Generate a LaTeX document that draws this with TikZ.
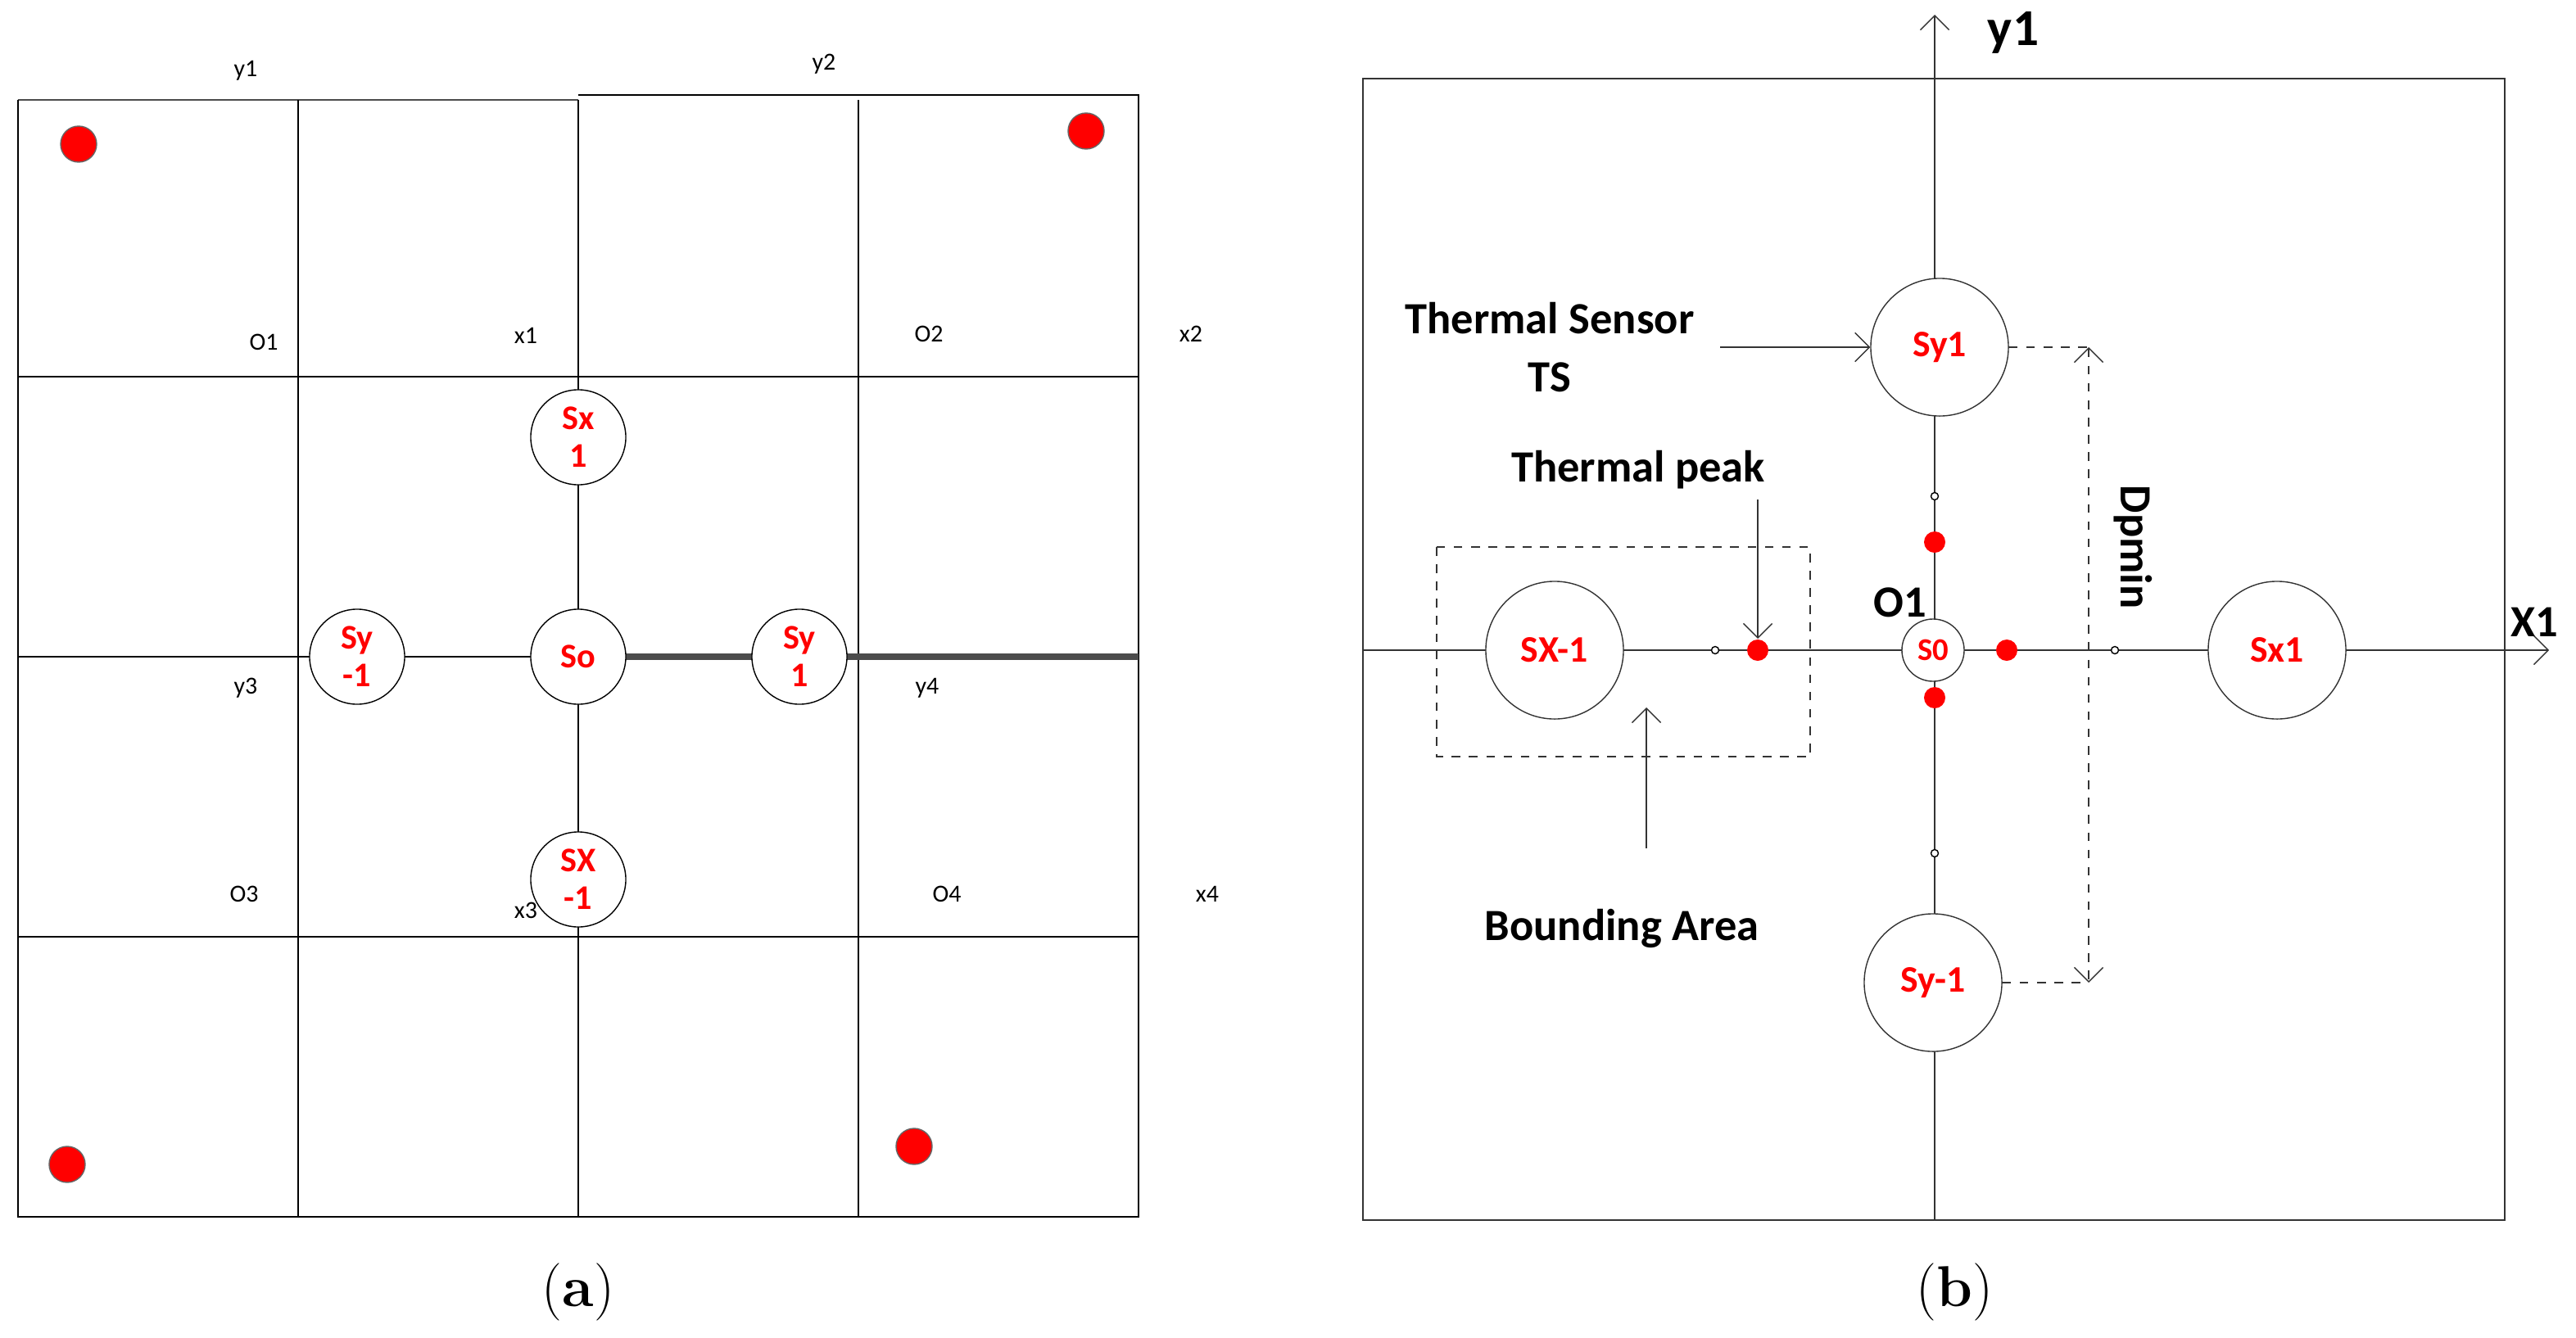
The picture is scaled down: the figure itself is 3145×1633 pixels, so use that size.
\documentclass[tikz,border=0pt]{standalone}
\usepackage{fontspec}
\setmainfont{Carlito}
\newfontfamily\capfont{Latin Modern Roman}
\usetikzlibrary{arrows.meta}

\begin{document}
\begin{tikzpicture}[x=0.01cm,y=-0.01cm,
    sensA/.style={circle,draw,fill=white,minimum size=1.16cm,inner sep=0pt,
        text=red,font=\fontsize{12}{13}\selectfont\bfseries,align=center},
    sensB/.style={circle,draw=black!80,fill=white,minimum size=1.68cm,inner sep=0pt,
        text=red,font=\fontsize{13}{14}\selectfont\bfseries},
    peak/.style={circle,fill=red,draw=black!60,inner sep=0pt},
    tick/.style={circle,draw,fill=white,inner sep=0pt,minimum size=0.09cm},
    lbl/.style={font=\fontsize{8.5}{9}\selectfont},
    big/.style={font=\fontsize{15.5}{18}\selectfont\bfseries}]
    \useasboundingbox (0,0) rectangle (3145,1633);

    % (a)
    \draw[black!70] (22,122) -- (706,122);
    \draw (706,116) -- (1390,116) -- (1390,1486) -- (22,1486) -- (22,122);
    \foreach \g in {364,706,1048} \draw (\g,122) -- (\g,1486);
    \foreach \g in {460,1144} \draw (22,\g) -- (1390,\g);
    \draw (22,802) -- (706,802);
    \draw[line width=2pt,black!70] (706,802) -- (1390,802);
    \node[sensA] (sx1) at (706,534) {Sx\\1};
    \node[sensA] (sym1) at (436,802) {Sy\\-1};
    \node[sensA] (so) at (706,802) {So};
    \node[sensA] (sy1) at (976,802) {Sy\\1};
    \node[sensA] (sxm1) at (706,1074) {SX\\-1};
    \foreach \p/\q in {96/176,1326/160,82/1422,1116/1400}
        \node[peak,minimum size=0.44cm] at (\p,\q) {};
    \node[lbl] at (300,86) {y1};
    \node[lbl] at (1006,78) {y2};
    \node[lbl] at (322,418) {O1};
    \node[lbl] at (642,410) {x1};
    \node[lbl] at (1134,408) {O2};
    \node[lbl] at (1454,408) {x2};
    \node[lbl] at (300,840) {y3};
    \node[lbl] at (1132,840) {y4};
    \node[lbl] at (298,1092) {O3};
    \node[lbl] at (642,1112) {x3};
    \node[lbl] at (1156,1092) {O4};
    \node[lbl] at (1474,1092) {x4};
    \node[font=\capfont\fontsize{20}{22}\selectfont] at (706,1578) {(\textbf{a})};

    % (b)
    \draw[black!80] (1664,96) rectangle (3058,1490);
    \coordinate (ytop) at (2362,18);
    \coordinate (xend) at (3112,794);
    \draw[black!80,-{Straight Barb[length=5pt]}] (2362,1490) -- (ytop);
    \draw[black!80,-{Straight Barb[length=5pt]}] (1664,794) -- (xend);
    \node[sensB] (Sy1) at (2368,424) {Sy1};
    \node[sensB] (SX-1) at (1898,794) {SX-1};
    \node[sensB] (Sx1) at (2780,794) {Sx1};
    \node[sensB] (Sy-1) at (2360,1200) {Sy-1};
    \node[circle,draw=black!80,fill=white,minimum size=0.76cm,inner sep=0pt,
        text=red,font=\fontsize{11}{12}\selectfont\bfseries] (S0) at (2360,794) {S0};
    \foreach \p/\q in {2146/794,2362/662,2450/794,2362/852}
        \node[peak,draw=none,minimum size=0.26cm] at (\p,\q) {};
    \foreach \p/\q in {2094/794,2362/606,2362/1042,2582/794}
        \node[tick] at (\p,\q) {};
    \draw[dashed,black!80] (1754,668) rectangle (2210,924);
    \coordinate (dtop) at (2550,424);
    \coordinate (dbot) at (2550,1200);
    \draw[dashed,black!80,{Straight Barb[length=5pt]}-{Straight Barb[length=5pt]}]
        (dtop) -- (dbot);
    \draw[dashed,black!80] (Sy1.east) -- (dtop);
    \draw[dashed,black!80] (Sy-1.east) -- (dbot);
    \node[big,align=center] (ts) at (1892,424) {Thermal Sensor\\[2pt]TS};
    \node[big] (tp) at (2000,574) {Thermal peak};
    \node[big] (ba) at (1980,1134) {Bounding Area};
    \coordinate (tsa) at (2100,424);
    \coordinate (tpa) at (2146,610);
    \coordinate (bab) at (2010,1036);
    \coordinate (bat) at (2010,864);
    \draw[black!80,-{Straight Barb[length=5pt]}] (tsa) -- (Sy1.west);
    \draw[black!80,-{Straight Barb[length=5pt]}] (tpa) -- (2146,780);
    \draw[black!80,-{Straight Barb[length=5pt]}] (bab) -- (bat);
    \node[big,rotate=-90] at (2604,668) {Dpmin};
    \node[big] at (2320,736) {O1};
    \node[big,font=\fontsize{18}{20}\selectfont\bfseries] at (2458,40) {y1};
    \node[big] at (3094,760) {X1};
    \node[font=\capfont\fontsize{20}{22}\selectfont] at (2386,1578) {(\textbf{b})};
\end{tikzpicture}
\end{document}
